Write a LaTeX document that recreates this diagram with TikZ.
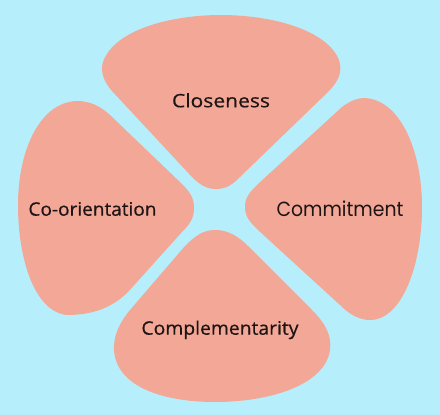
\documentclass[tikz,border=0pt]{standalone}
\usepackage{fontspec}
\setmainfont{Open Sans}[FakeBold=0.5]
\newfontfamily\commitfont{Poppins}
\usepackage{graphicx}
\definecolor{bgcyan}{HTML}{B7EEFB}
\definecolor{petal}{HTML}{F3A897}
\definecolor{ink}{HTML}{1E1414}
\newcommand{\fitlabel}[2]{\resizebox{#1}{\height}{#2}}
\begin{document}
\begin{tikzpicture}[x=1pt,y=-1pt,
  petalshape/.style={fill=petal,draw=none},
  lbl/.style={anchor=base,inner sep=0pt,text=ink,font=\fontsize{18.6}{20}\selectfont}]
\useasboundingbox (0,0) rectangle (440,415);
\fill[bgcyan] (0,0) rectangle (440,415);
% top petal
\path[petalshape] (216,189) .. controls (226,189) and (232,185) .. (240,177)
  -- (328,92) .. controls (338,82) and (343,72) .. (339,60)
  .. controls (327,30) and (272,15) .. (221,15)
  .. controls (170,15) and (114,30) .. (103,62)
  .. controls (100,72) and (104,82) .. (112,91)
  -- (192,177) .. controls (200,185) and (207,189) .. (216,189) -- cycle;
% right petal
\path[petalshape] (245,207) .. controls (245,197) and (250,192) .. (258,184)
  -- (342,107) .. controls (350,101) and (357,98) .. (365,98)
  .. controls (400,100) and (422,150) .. (422,207)
  .. controls (422,265) and (402,320) .. (370,320)
  .. controls (360,320) and (350,315) .. (340,305)
  -- (258,230) .. controls (250,222) and (245,217) .. (245,207) -- cycle;
% left petal
\path[petalshape] (194,208) .. controls (194,218) and (190,224) .. (182,232)
  -- (128,292) .. controls (112,308) and (92,315) .. (67,315)
  .. controls (35,312) and (18,260) .. (18,205)
  .. controls (18,150) and (40,102) .. (77,101)
  .. controls (90,101) and (100,106) .. (110,115)
  -- (182,184) .. controls (190,192) and (194,198) .. (194,208) -- cycle;
% bottom petal
\path[petalshape] (215,230) .. controls (228,230) and (238,236) .. (248,246)
  -- (312,310) .. controls (325,323) and (332,335) .. (330,350)
  .. controls (325,385) and (270,402) .. (215,402)
  .. controls (160,402) and (112,385) .. (114,345)
  .. controls (115,333) and (120,322) .. (130,310)
  -- (185,246) .. controls (195,236) and (203,230) .. (215,230) -- cycle;
% labels
\node[lbl] (closeness) at (221,107.3) {\fitlabel{98pt}{Closeness}};
\node[lbl] (coorient) at (92.5,215.7) {\fitlabel{128pt}{Co-orientation}};
\node[lbl,font=\commitfont\fontsize{20.5}{22}\selectfont] (commit) at (340,216.7) {\fitlabel{127pt}{Commitment}};
\node[lbl] (complement) at (220,334.7) {\fitlabel{157pt}{Complementarity}};
\end{tikzpicture}
\end{document}
